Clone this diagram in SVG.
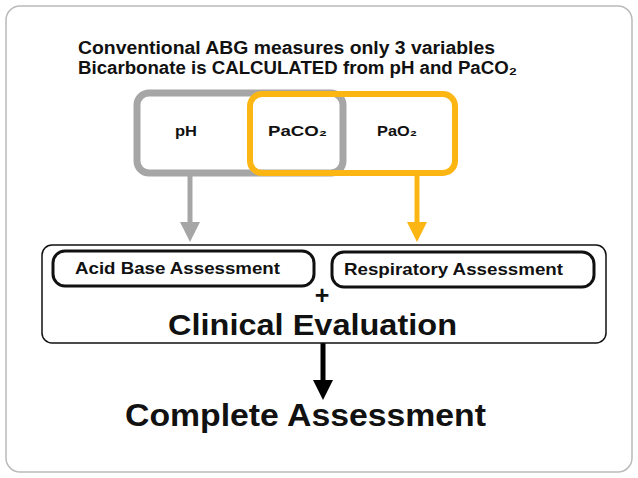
<svg xmlns="http://www.w3.org/2000/svg" width="638" height="478" viewBox="0 0 638 478">
<style>
text{font-family:"Liberation Sans",Arial,sans-serif;font-weight:bold;fill:#111}
.s{font-size:15px}
.m{font-size:16.5px}
.r{fill:#fff;stroke:#111;stroke-width:3}
</style>
<defs>
<marker id="ag" markerWidth="4" markerHeight="4" refX="2" refY="2" orient="auto" markerUnits="strokeWidth"><path d="M0,0L4,2L0,4z" fill="#a6a6a6"/></marker>
<marker id="ay" markerWidth="4" markerHeight="4" refX="2" refY="2" orient="auto" markerUnits="strokeWidth"><path d="M0,0L4,2L0,4z" fill="#fbb614"/></marker>
<marker id="ab" markerWidth="4" markerHeight="4" refX="2" refY="2" orient="auto" markerUnits="strokeWidth"><path d="M0,0L4,2L0,4z" fill="#000"/></marker>
</defs>
<rect x="6" y="6" width="626" height="466" rx="14" fill="#fff" stroke="#bbb" stroke-width="1.5"/>
<text x="78" y="54" font-size="17.5" textLength="417" lengthAdjust="spacingAndGlyphs">Conventional  ABG  measures  only 3 variables</text>
<text x="78" y="74" font-size="17.5" textLength="439" lengthAdjust="spacingAndGlyphs">Bicarbonate is CALCULATED from pH and PaCO₂</text>
<g id="grey"><rect x="137" y="93" width="206" height="80" rx="12" fill="none" stroke="#a6a6a6" stroke-width="7"/><text class="s" x="175" y="136" textLength="22" lengthAdjust="spacingAndGlyphs">pH</text></g>
<g id="yellow"><rect x="250" y="94" width="205" height="79" rx="12" fill="none" stroke="#fbb614" stroke-width="6"/><text class="s" x="268" y="136" textLength="59" lengthAdjust="spacingAndGlyphs">PaCO₂</text><text class="s" x="377" y="136" textLength="40" lengthAdjust="spacingAndGlyphs">PaO₂</text></g>
<g id="connectors">
<line x1="190" y1="176" x2="190" y2="232" stroke="#a6a6a6" stroke-width="5" marker-end="url(#ag)"/>
<line x1="417" y1="176" x2="417" y2="232" stroke="#fbb614" stroke-width="5" marker-end="url(#ay)"/>
<line x1="323" y1="343" x2="323" y2="390" stroke="#000" stroke-width="5" marker-end="url(#ab)"/>
</g>
<g id="outer"><rect x="42" y="245" width="564" height="98" rx="10" fill="#fff" stroke="#111" stroke-width="1.5"/>
<text x="322" y="304" font-size="25" text-anchor="middle">+</text>
<text x="168" y="335" font-size="30" textLength="289" lengthAdjust="spacingAndGlyphs">Clinical Evaluation</text></g>
<g id="acid"><rect class="r" x="53" y="251" width="261" height="35" rx="12"/><text class="m" x="75" y="274" textLength="205" lengthAdjust="spacingAndGlyphs">Acid Base Assessment</text></g>
<g id="resp"><rect class="r" x="332" y="252" width="262" height="35" rx="12"/><text class="m" x="344" y="275" textLength="219" lengthAdjust="spacingAndGlyphs">Respiratory Assessment</text></g>
<g id="complete"><text x="125" y="426" font-size="32" textLength="361" lengthAdjust="spacingAndGlyphs">Complete Assessment</text></g>
</svg>
